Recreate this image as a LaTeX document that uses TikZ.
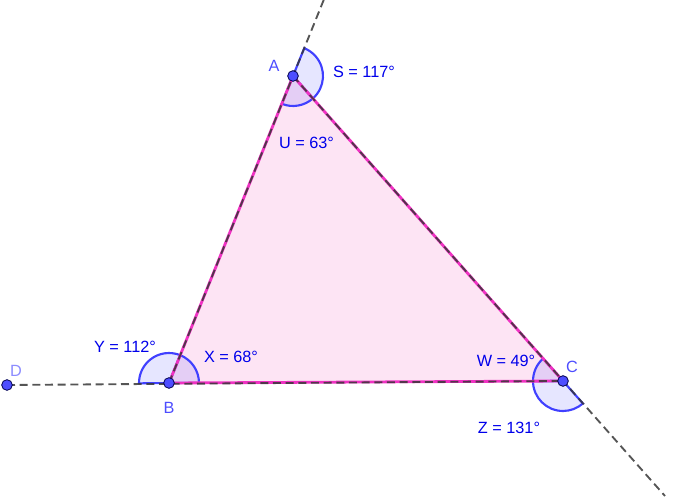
\documentclass[tikz,border=0pt]{standalone}
\usepackage{fontspec}
\setmainfont{Liberation Sans}
\definecolor{trifill}{RGB}{253,228,244}
\definecolor{edgemag}{RGB}{240,50,195}
\definecolor{extgray}{RGB}{55,55,55}
\definecolor{angblue}{RGB}{64,64,255}
\definecolor{labblue}{RGB}{0,0,235}
\definecolor{ptblue}{RGB}{77,77,255}
\definecolor{ptlab}{RGB}{77,77,255}
\definecolor{dlab}{RGB}{140,140,255}
\tikzset{
  trishade/.style={fill=trifill},
  edge/.style={draw=edgemag, line width=2.1pt},
  extline/.style={draw=extgray, draw opacity=0.85, line width=1.4pt, dash pattern=on 6pt off 3.5pt},
  angsector/.style={draw=angblue, line width=1.6pt, fill=angblue, fill opacity=0.13},
  anglab/.style={text=labblue, font=\fontsize{12.2}{14}\selectfont, inner sep=0pt},
  ptlabel/.style={text=ptlab, font=\fontsize{12.2}{14}\selectfont, inner sep=0pt},
  ptdot/.style={circle, fill=ptblue, draw=black!70!blue, line width=0.6pt, minimum size=8pt, inner sep=0pt}
}
\newcommand\angsec[3]{\filldraw[angsector] (#1) -- ++(#2:22.5pt) arc[start angle=#2, end angle=#3, radius=22.5pt] -- cycle;}
\begin{document}
\begin{tikzpicture}[x=0.75pt,y=0.75pt]
\useasboundingbox (0,0) rectangle (700,500);
\coordinate (A) at (293,424);
\coordinate (B) at (169,117);
\coordinate (C) at (563,119);
\coordinate (D) at (7,115);
\coordinate (E1) at (323.7,500);
\coordinate (E2) at (665,4);
% triangle
\fill[trishade] (A) -- (B) -- (C) -- cycle;
% angle sectors
\angsec{A}{248.0}{311.5}
\angsec{A}{311.5}{428.0}
\angsec{B}{0.3}{68.0}
\angsec{B}{68.0}{180.7}
\angsec{C}{131.5}{180.3}
\angsec{C}{180.3}{311.5}
% edges
\draw[edge] (A) -- (B);
\draw[edge] (B) -- (C);
\draw[edge] (C) -- (A);
% lines
\draw[extline] (D) -- (C);
\draw[extline] (B) -- (E1);
\draw[extline] (A) -- (E2);
% points
\node[ptdot] (pA) at (A) {};
\node[ptdot] (pB) at (B) {};
\node[ptdot] (pC) at (C) {};
\node[ptdot] (pD) at (D) {};
% point labels
\node[ptlabel] (lA) at (274,434) {A};
\node[ptlabel] (lB) at (169,92) {B};
\node[ptlabel] (lC) at (572,133) {C};
\node[ptlabel, text=dlab] (lD) at (16,129) {D};
% angle labels
\node[anglab] (lS) at (364,428) {S = 117°};
\node[anglab] (lU) at (306.5,357) {U = 63°};
\node[anglab] (lY) at (125,153) {Y = 112°};
\node[anglab] (lX) at (231,143) {X = 68°};
\node[anglab] (lW) at (506,139) {W = 49°};
\node[anglab] (lZ) at (509,72) {Z = 131°};
\end{tikzpicture}
\end{document}
